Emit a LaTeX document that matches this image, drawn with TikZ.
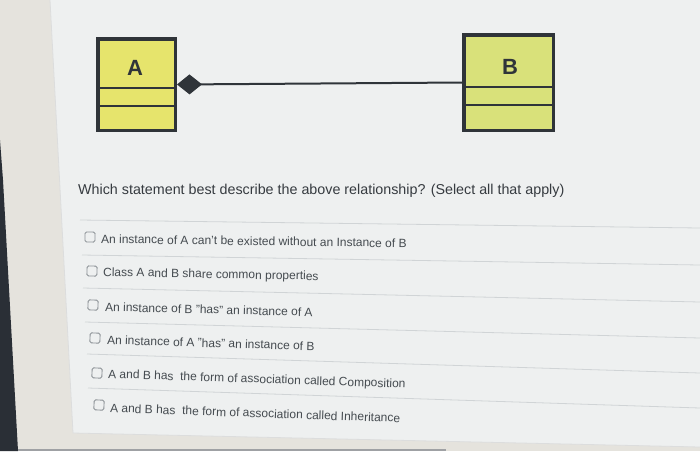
\documentclass[tikz,border=0pt]{standalone}
\usepackage{fontspec}
\setmainfont{Liberation Sans}
\usetikzlibrary{arrows.meta}
\definecolor{umlline}{HTML}{2F3439}
\definecolor{fillA}{HTML}{E6E46C}
\definecolor{fillB}{HTML}{D9E17A}
\definecolor{panel}{HTML}{EEF0F0}
\definecolor{margin}{HTML}{E5E3DD}
\definecolor{bezel}{HTML}{2A2F36}
\definecolor{rule}{HTML}{D0D4D6}
\definecolor{qtext}{HTML}{363B40}
\definecolor{otext}{HTML}{454B50}
\definecolor{boxgray}{HTML}{8C9296}
\begin{document}
\begin{tikzpicture}[x=1pt,y=-1pt]
\tikzstyle{every node}+=[inner sep=0pt]
\tikzstyle{classbox}=[draw=umlline, line width=3.5pt, anchor=north west]
\tikzstyle{divline}=[draw=umlline, line width=2.2pt]
\tikzstyle{classname}=[text=umlline, font=\fontsize{22}{22}\selectfont\bfseries]
\tikzstyle{assoc}=[draw=umlline, line width=2pt, {Diamond[length=25pt,width=20pt]}-]
\tikzstyle{question}=[text=qtext, anchor=west, font=\fontsize{14.3}{15}\selectfont]
\tikzstyle{option}=[text=otext, anchor=west, font=\fontsize{12}{13}\selectfont]
\tikzstyle{checkbox}=[draw=boxgray, line width=0.9pt, rounded corners=1.5pt, minimum size=10pt]
\tikzstyle{sepline}=[draw=rule, line width=0.8pt]
% page, margin and screen edge
\useasboundingbox (0,0) rectangle (700,451);
\fill[margin] (0,0) rectangle (700,451);
\fill[panel] (50,0) -- (73,433) -- (700,447) -- (700,0) -- cycle;
\draw[draw=rule!80!black!40, line width=0.8pt] (50,0) -- (73,433) -- (700,447);
\fill[bezel] (0,140) -- (3,180) -- (18,451) -- (0,451) -- cycle;
\fill[bezel!45] (18,449) rectangle (446,451);
% classes
\node[classbox, fill=fillA, minimum width=77.5pt, minimum height=91.5pt] (A) at (96,37) {};
\node[classbox, fill=fillB, minimum width=89.5pt, minimum height=95.5pt] (B) at (462,33) {};
\draw[divline] (A.west |- 0,88) -- (A.east |- 0,88);
\draw[divline] (A.west |- 0,106) -- (A.east |- 0,106);
\draw[divline] (B.west |- 0,87) -- (B.east |- 0,87);
\draw[divline] (B.west |- 0,105) -- (B.east |- 0,105);
\node[classname] (Aname) at (135,68) {A};
\node[classname] (Bname) at (510,67) {B};
\draw[assoc] (A.east) -- (B.west);
% question and options
\node[question] (q) at (78,191) {Which statement best describe the above relationship? (Select all that apply)};
\draw[sepline] (80,220) -- (700,228);
\draw[sepline] (82,255) -- (700,265);
\draw[sepline] (83,288) -- (700,302);
\draw[sepline] (85,322) -- (700,338);
\draw[sepline] (87,354) -- (700,373);
\draw[sepline] (88,388) -- (700,408);
\foreach \i/\cx/\cy/\tx/\ty/\rot/\txt in {
  1/90/237/101/239/-0.8/{An instance of A can't be existed without an Instance of B},
  2/92/271/103/273/-1.1/{Class A and B share common properties},
  3/93/305/105/307/-1.4/{An instance of B "has" an instance of A},
  4/95/338/107/340/-1.7/{An instance of A "has" an instance of B},
  5/97/373/108/375/-1.9/{A and B has~ the form of association called Composition},
  6/99/405/110/408/-2/{A and B has~ the form of association called Inheritance}}
{
  \node[checkbox, rotate=\rot] (c\i) at (\cx,\cy) {};
  \node[option, rotate=\rot] (t\i) at (\tx,\ty) {\txt};
}
\end{tikzpicture}
\end{document}
